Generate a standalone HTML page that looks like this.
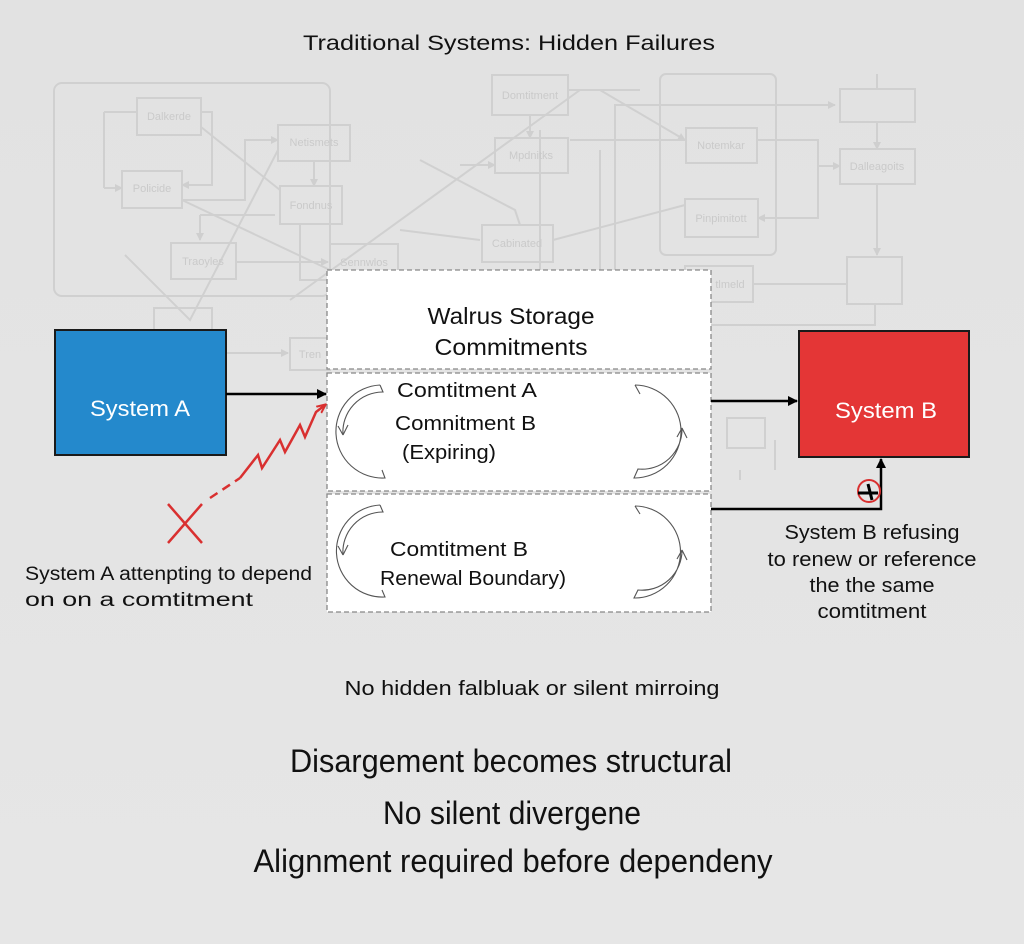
<!DOCTYPE html>
<html><head><meta charset="utf-8"><style>
html,body{margin:0;padding:0;background:#e3e3e3}
svg{display:block}
text{font-family:"Liberation Sans",sans-serif}
</style></head><body>
<svg width="1024" height="944" viewBox="0 0 1024 944" xmlns="http://www.w3.org/2000/svg">
<defs>
<linearGradient id="bg" x1="0" y1="0" x2="0" y2="1"><stop offset="0" stop-color="#e2e2e2"/><stop offset="1" stop-color="#e6e6e6"/></linearGradient>
<marker id="ah" markerWidth="10" markerHeight="10" refX="9" refY="5" orient="auto" markerUnits="userSpaceOnUse"><path d="M0,0 L10,5 L0,10z" fill="#000"/></marker>
<marker id="fh" markerWidth="8" markerHeight="8" refX="7" refY="4" orient="auto" markerUnits="userSpaceOnUse"><path d="M0,0 L8,4 L0,8z" fill="#cfcfcf"/></marker>
<marker id="rh" markerWidth="10" markerHeight="10" refX="8" refY="5" orient="auto" markerUnits="userSpaceOnUse"><path d="M0,1 L9,5 L0,9" fill="none" stroke="#d93030" stroke-width="2"/></marker>
</defs>
<rect width="1024" height="944" fill="url(#bg)"/>

<g stroke="#d0d0d0" stroke-width="2" fill="none">
<rect x="54" y="83" width="276" height="213" rx="8"/>
<rect x="137" y="98" width="64" height="37"/>
<rect x="122" y="171" width="60" height="37"/>
<rect x="278" y="125" width="72" height="36"/>
<rect x="280" y="186" width="62" height="38"/>
<rect x="171" y="243" width="65" height="36"/>
<rect x="330" y="244" width="68" height="36"/>
<rect x="154" y="308" width="58" height="26"/>
<rect x="290" y="338" width="40" height="32"/>
<rect x="492" y="75" width="76" height="40"/>
<rect x="495" y="138" width="73" height="35"/>
<rect x="482" y="225" width="71" height="37"/>
<rect x="686" y="128" width="71" height="35"/>
<rect x="685" y="199" width="73" height="38"/>
<rect x="840" y="89" width="75" height="33"/>
<rect x="840" y="149" width="75" height="35"/>
<rect x="847" y="257" width="55" height="47"/>
<rect x="685" y="266" width="68" height="36"/>
<rect x="660" y="74" width="116" height="181" rx="6"/>
<rect x="727" y="418" width="38" height="30"/>
<path d="M104,112 V188 M104,112 H137 M104,188 H122" marker-end="url(#fh)"/>
<path d="M201,112 H212 V185 H182" marker-end="url(#fh)"/>
<path d="M201,127 L280,190"/>
<path d="M182,200 H245 V140 H278" marker-end="url(#fh)"/>
<path d="M314,161 V186" marker-end="url(#fh)"/>
<path d="M200,215 H275 M200,215 V240" marker-end="url(#fh)"/>
<path d="M236,262 H328" marker-end="url(#fh)"/>
<path d="M125,255 L190,320 L278,150"/>
<path d="M182,200 L330,270"/>
<path d="M300,224 V280 H330"/>
<path d="M226,353 H288" marker-end="url(#fh)"/>
<path d="M290,300 L580,90 L640,90"/>
<path d="M530,115 V138" marker-end="url(#fh)"/>
<path d="M460,165 H495" marker-end="url(#fh)"/>
<path d="M420,160 L515,210 L520,225"/>
<path d="M400,230 L480,240"/>
<path d="M568,90 L600,90 L685,140" marker-end="url(#fh)"/>
<path d="M615,270 V105 H835" marker-end="url(#fh)"/>
<path d="M570,140 H686"/>
<path d="M757,140 H818 V218 H758" marker-end="url(#fh)"/>
<path d="M818,166 H840" marker-end="url(#fh)"/>
<path d="M553,240 L685,205"/>
<path d="M877,74 V89 M877,122 V149" marker-end="url(#fh)"/>
<path d="M877,184 V255" marker-end="url(#fh)"/>
<path d="M753,284 H847"/>
<path d="M875,304 V325 H700"/>
<path d="M540,130 V300 M600,150 V280"/>
<path d="M740,470 V480 M775,440 V470"/>
</g>
<g fill="#cacaca" font-size="11" text-anchor="middle">
<text x="169" y="120">Dalkerde</text><text x="152" y="192">Policide</text>
<text x="314" y="146">Netismets</text><text x="311" y="209">Fondnus</text>
<text x="203" y="265">Traoyles</text><text x="364" y="266">Sennwlos</text>
<text x="530" y="99">Domtitment</text><text x="531" y="159">Mpdnitks</text>
<text x="517" y="247">Cabinated</text><text x="721" y="149">Notemkar</text>
<text x="721" y="222">Pinpimitott</text><text x="877" y="170">Dalleagoits</text>
<text x="730" y="288">tlmeld</text><text x="310" y="358">Tren</text>
</g>

<text x="509" y="50" font-size="21" fill="#111" text-anchor="middle" textLength="412" lengthAdjust="spacingAndGlyphs">Traditional Systems: Hidden Failures</text>

<g fill="#fff" stroke="#888" stroke-width="1.3" stroke-dasharray="5,3">
<rect x="327" y="270" width="384" height="99"/>
<rect x="327" y="373" width="384" height="118"/>
<rect x="327" y="494" width="384" height="118"/>
</g>
<text x="511" y="324" font-size="23" fill="#111" text-anchor="middle" textLength="167" lengthAdjust="spacingAndGlyphs">Walrus Storage</text>
<text x="511" y="355" font-size="23" fill="#111" text-anchor="middle" textLength="153" lengthAdjust="spacingAndGlyphs">Commitments</text>

<g fill="#111" font-size="20">
<text x="397" y="397" textLength="140" lengthAdjust="spacingAndGlyphs">Comtitment A</text>
<text x="395" y="430" textLength="141" lengthAdjust="spacingAndGlyphs">Comnitment B</text>
<text x="402" y="459" textLength="94" lengthAdjust="spacingAndGlyphs">(Expiring)</text>
<text x="390" y="556" textLength="138" lengthAdjust="spacingAndGlyphs">Comtitment B</text>
<text x="380" y="585" textLength="186" lengthAdjust="spacingAndGlyphs">Renewal Boundary)</text>
</g>

<g fill="none" stroke="#555" stroke-width="1.1">
<path d="M380,385 A45,45 0 0 0 385,478 L382,470 M380,385 L383,392 A40,40 0 0 0 343,435"/>
<path d="M343,435 L348,425 M343,435 L338,426"/>
<path d="M635,385 A45,45 0 0 1 634,478 L638,469 A40,40 0 0 0 682,428 L687,438 M682,428 L677,437"/>
<path d="M635,385 L640,394"/>
<path d="M380,505 A45,45 0 0 0 385,597 L382,590 M380,505 L383,512 A40,40 0 0 0 343,555"/>
<path d="M343,555 L348,545 M343,555 L338,546"/>
<path d="M635,506 A45,45 0 0 1 634,598 L638,590 A40,40 0 0 0 682,550 L687,560 M682,550 L677,559"/>
<path d="M635,506 L640,514"/>
</g>

<rect x="55" y="330" width="171" height="125" fill="#2489cc" stroke="#1a1a1a" stroke-width="2"/>
<text x="140" y="416" font-size="22" fill="#fff" text-anchor="middle" textLength="100" lengthAdjust="spacingAndGlyphs">System A</text>
<rect x="799" y="331" width="170" height="126" fill="#e43636" stroke="#1a1a1a" stroke-width="2"/>
<text x="886" y="418" font-size="22" fill="#fff" text-anchor="middle" textLength="102" lengthAdjust="spacingAndGlyphs">System B</text>

<path d="M226,394 H326" stroke="#000" stroke-width="2.5" fill="none" marker-end="url(#ah)"/>
<path d="M711,401 H797" stroke="#000" stroke-width="2.5" fill="none" marker-end="url(#ah)"/>
<path d="M711,509 H881 V459" stroke="#000" stroke-width="2.5" fill="none" marker-end="url(#ah)"/>
<circle cx="869" cy="491" r="11" fill="none" stroke="#d93030" stroke-width="2"/>
<path d="M858,493 H878 M868,484 L872,500" stroke="#000" stroke-width="3"/>

<path d="M210,498 L240,478" stroke="#d93030" stroke-width="2.5" stroke-dasharray="9,6" fill="none"/>
<path d="M240,478 L258,455 L262,468 L280,440 L285,452 L300,425 L305,437 L316,412 L325,405" stroke="#d93030" stroke-width="2.5" fill="none" marker-end="url(#rh)"/>
<path d="M168,504 L202,543 M202,504 L168,543" stroke="#d93030" stroke-width="2.5"/>

<g fill="#111" font-size="19">
<text x="25" y="580" textLength="287" lengthAdjust="spacingAndGlyphs">System A attenpting to depend</text>
<text x="25" y="606" textLength="228" lengthAdjust="spacingAndGlyphs">on on a comtitment</text>
</g>
<g fill="#111" font-size="20" text-anchor="middle">
<text x="872" y="539" textLength="175" lengthAdjust="spacingAndGlyphs">System B refusing</text>
<text x="872" y="566" textLength="209" lengthAdjust="spacingAndGlyphs">to renew or reference</text>
<text x="872" y="592" textLength="125" lengthAdjust="spacingAndGlyphs">the the same</text>
<text x="872" y="618" textLength="109" lengthAdjust="spacingAndGlyphs">comtitment</text>
</g>

<text x="532" y="695" font-size="20" fill="#111" text-anchor="middle" textLength="375" lengthAdjust="spacingAndGlyphs">No hidden falbluak or silent mirroing</text>
<text x="511" y="772" font-size="32" fill="#111" text-anchor="middle" textLength="442" lengthAdjust="spacingAndGlyphs">Disargement becomes structural</text>
<text x="512" y="824" font-size="32" fill="#111" text-anchor="middle" textLength="258" lengthAdjust="spacingAndGlyphs">No silent divergene</text>
<text x="513" y="872" font-size="32" fill="#111" text-anchor="middle" textLength="519" lengthAdjust="spacingAndGlyphs">Alignment required before dependeny</text>
</svg>
</body></html>
